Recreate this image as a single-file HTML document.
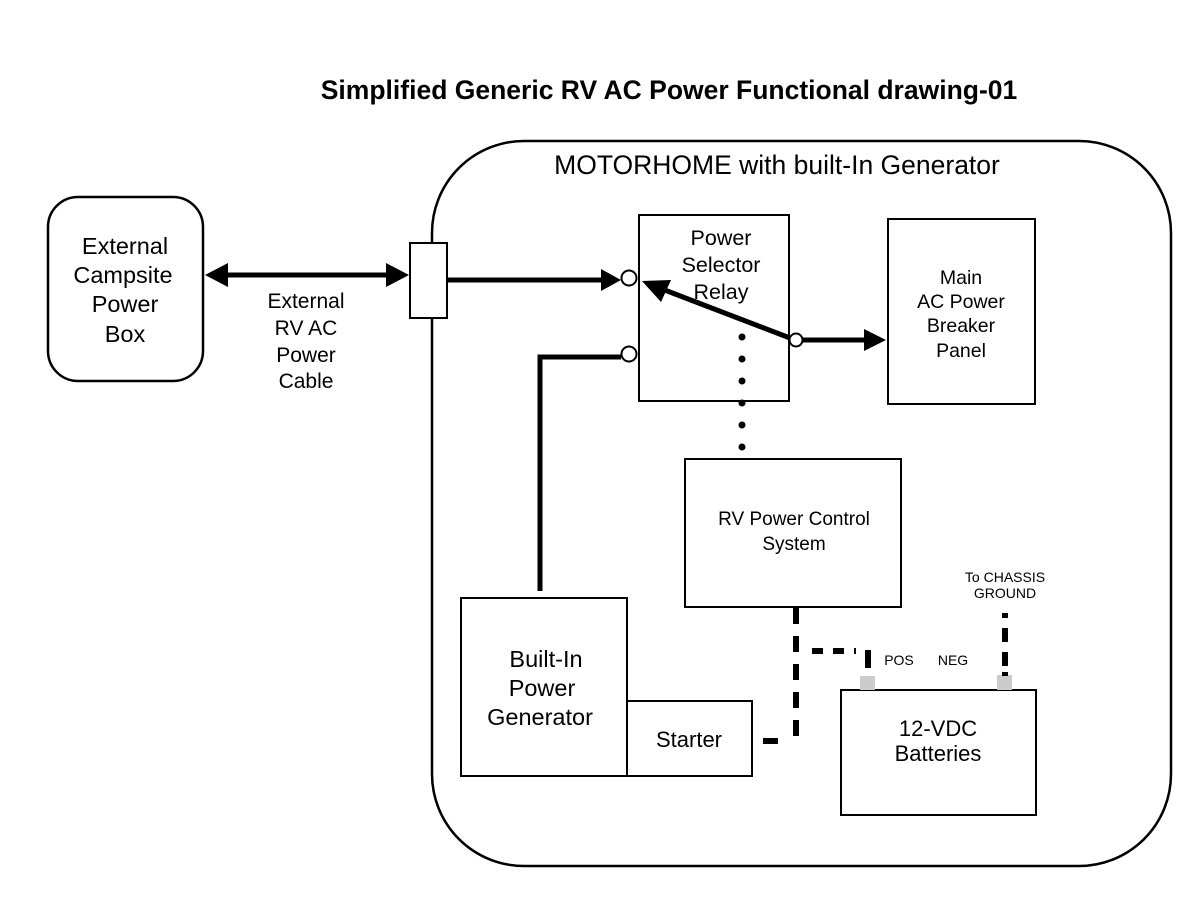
<!DOCTYPE html>
<html><head><meta charset="utf-8"><style>html,body{margin:0;padding:0;background:#fff}svg{display:block}text{font-family:"Liberation Sans",Arial,sans-serif;fill:#000}</style></head>
<body>
<svg width="1200" height="907" viewBox="0 0 1200 907" xmlns="http://www.w3.org/2000/svg">
<text x="669" y="99" font-size="26.5" font-weight="bold" text-anchor="middle">Simplified Generic RV AC Power Functional drawing-01</text>
<rect x="432" y="141" width="739" height="725" rx="92" fill="none" stroke="#000" stroke-width="2.5"/>
<text x="777" y="174" font-size="26.5" text-anchor="middle">MOTORHOME with built-In Generator</text>

<rect x="48" y="197" width="155" height="184" rx="30" fill="none" stroke="#000" stroke-width="2.5"/>
<g font-size="23.5" text-anchor="middle"><text x="125" y="254">External</text><text x="123" y="283">Campsite</text><text x="125" y="312">Power</text><text x="125" y="342">Box</text></g>
<g font-size="21" text-anchor="middle"><text x="306" y="308">External</text><text x="306" y="335">RV AC</text><text x="306" y="362">Power</text><text x="306" y="388">Cable</text></g>
<line x1="222" y1="275" x2="392" y2="275" stroke="#000" stroke-width="5"/>
<path d="M205,275 L228,263 L228,287 z"/><path d="M409,275 L386,263 L386,287 z"/>
<rect x="410" y="243" width="37" height="75" fill="#fff" stroke="#000" stroke-width="2"/>

<line x1="447" y1="280" x2="605" y2="280" stroke="#000" stroke-width="5"/>
<path d="M621,280 L601,269 L601,291 z"/>
<rect x="639" y="215" width="150" height="186" fill="none" stroke="#000" stroke-width="2"/>
<g font-size="21.5" text-anchor="middle"><text x="721" y="245">Power</text><text x="721" y="272">Selector</text><text x="721" y="299">Relay</text></g>
<circle cx="629" cy="278" r="7.5" fill="#fff" stroke="#000" stroke-width="2"/>
<polyline points="621,357 540,357 540,591" fill="none" stroke="#000" stroke-width="5"/>
<circle cx="629" cy="354" r="7.5" fill="#fff" stroke="#000" stroke-width="2"/>
<line x1="790" y1="338" x2="662" y2="289" stroke="#000" stroke-width="5"/>
<path d="M642,281 L671,280 L661,302 z"/>
<line x1="800" y1="340" x2="866" y2="340" stroke="#000" stroke-width="5"/>
<path d="M886,340 L864,329 L864,351 z"/>
<circle cx="796" cy="340" r="6.5" fill="#fff" stroke="#000" stroke-width="2"/>
<rect x="888" y="219" width="147" height="185" fill="none" stroke="#000" stroke-width="2"/>
<g font-size="19.5" text-anchor="middle"><text x="961" y="284">Main</text><text x="961" y="308">AC Power</text><text x="961" y="332">Breaker</text><text x="961" y="357">Panel</text></g>
<g fill="#000"><circle cx="742" cy="337" r="3.5"/><circle cx="742" cy="359" r="3.5"/><circle cx="742" cy="381" r="3.5"/><circle cx="742" cy="403" r="3.5"/><circle cx="742" cy="425" r="3.5"/><circle cx="742" cy="447" r="3.5"/></g>

<rect x="685" y="459" width="216" height="148" fill="none" stroke="#000" stroke-width="2"/>
<g font-size="19" text-anchor="middle"><text x="794" y="525">RV Power Control</text><text x="794" y="550">System</text></g>

<rect x="461" y="598" width="166" height="178" fill="none" stroke="#000" stroke-width="2"/>
<g font-size="23.5" text-anchor="middle"><text x="546" y="667">Built-In</text><text x="542" y="696">Power</text><text x="540" y="725">Generator</text></g>
<rect x="627" y="701" width="125" height="75" fill="none" stroke="#000" stroke-width="2"/>
<text x="689" y="747" font-size="22" text-anchor="middle">Starter</text>

<rect x="841" y="690" width="195" height="125" fill="none" stroke="#000" stroke-width="2"/>
<g font-size="22" text-anchor="middle"><text x="938" y="736">12-VDC</text><text x="938" y="761">Batteries</text></g>
<rect x="860" y="676" width="15" height="14" fill="#ccc"/>
<rect x="997" y="675" width="15" height="15" fill="#ccc"/>
<g font-size="14" text-anchor="middle"><text x="899" y="665">POS</text><text x="953" y="665">NEG</text></g>
<g font-size="14" text-anchor="middle"><text x="1005" y="582">To CHASSIS</text><text x="1005" y="598">GROUND</text></g>

<g stroke="#000" stroke-width="6" fill="none">
<line x1="796" y1="608" x2="796" y2="745" stroke-dasharray="16 12"/>
<line x1="812" y1="651" x2="856" y2="651" stroke-dasharray="11 10"/>
<line x1="868" y1="650" x2="868" y2="668"/>
<line x1="763" y1="741" x2="778" y2="741"/>
<line x1="1005" y1="613" x2="1005" y2="676" stroke-dasharray="5 10 14 10 14 6"/>
</g>
</svg>
</body></html>
